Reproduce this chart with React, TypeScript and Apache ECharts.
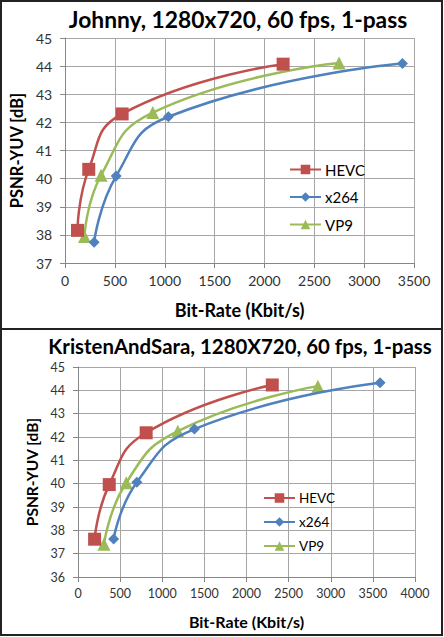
import React, { useEffect, useRef } from "react";
import * as echarts from "echarts";

const seriesNames = ["HEVC", "x264", "VP9"];
const colors = ["#C0504D", "#4F81BD", "#9BBB59"];
const symbols = ["rect", "diamond", "triangle"];
const symbolSizes = [13, 11, 13];

// Johnny
const johnnyHevc = [[124, 38.16], [237, 40.33], [572, 42.3], [2187, 44.07]];
const johnnyX264 = [[291, 37.74], [512, 40.09], [1036, 42.2], [3384, 44.09]];
const johnnyVp9 = [[194, 37.94], [361, 40.12], [879, 42.35], [2748, 44.11]];

// KristenAndSara
const kristenHevc = [[197, 37.62], [371, 39.96], [809, 42.18], [2306, 44.23]];
const kristenX264 = [[423, 37.63], [699, 40.06], [1382, 42.34], [3585, 44.33]];
const kristenVp9 = [[308, 37.4], [573, 40.04], [1185, 42.25], [2847, 44.18]];

const titles = [
  "Johnny, 1280x720, 60 fps, 1-pass",
  "KristenAndSara, 1280X720, 60 fps, 1-pass",
];
const xName = "Bit-Rate (Kbit/s)";
const yName = "PSNR-YUV [dB]";

const FONT = "Lato, 'Open Sans', sans-serif";

export default function App() {
  const ref = useRef<HTMLDivElement>(null);
  useEffect(() => {
    if (!ref.current) return;
    const chart = echarts.init(ref.current, null, { renderer: "svg" });
    const grid = "#A6A6A6";
    const mkX = (idx: number, max: number, gap: number, nameSize: number, labelSize: number) => ({
      type: "value",
      gridIndex: idx,
      min: 0,
      max,
      interval: 500,
      name: xName,
      nameLocation: "middle",
      nameGap: gap,
      nameTextStyle: { fontFamily: FONT, fontSize: nameSize, fontWeight: "bold", color: "#000" },
      axisLine: { show: true, lineStyle: { color: "#868686", width: 1 } },
      axisTick: { show: true, length: 5, lineStyle: { color: "#868686" } },
      axisLabel: {
        fontFamily: FONT,
        fontSize: labelSize,
        color: "#333",
        margin: 10,
        formatter: (v: number) => String(v),
      },
      splitLine: { show: true, lineStyle: { color: grid, width: 1 } },
    });
    const mkY = (idx: number, min: number, gap: number, nameSize: number, labelSize: number) => ({
      type: "value",
      gridIndex: idx,
      min,
      max: 45,
      interval: 1,
      name: yName,
      nameLocation: "middle",
      nameGap: gap,
      nameTextStyle: { fontFamily: FONT, fontSize: nameSize, fontWeight: "bold", color: "#000" },
      axisLine: { show: true, lineStyle: { color: "#868686", width: 1 } },
      axisTick: { show: true, length: 5, lineStyle: { color: "#868686" } },
      axisLabel: { fontFamily: FONT, fontSize: labelSize, color: "#333", margin: 13 },
      splitLine: { show: true, lineStyle: { color: grid, width: 1 } },
    });
    const mkSeries = (name: string, i: number, data: number[][], idx: number) => ({
      type: "line",
      name,
      xAxisIndex: idx,
      yAxisIndex: idx,
      data,
      smooth: 0.5,
      symbol: symbols[i],
      symbolSize: symbolSizes[i],
      showAllSymbol: true,
      lineStyle: { color: colors[i], width: 2.5 },
      itemStyle: { color: colors[i] },
      z: 3 - i + 2,
    });
    const mkLegend = (top: number, left: number, gap: number, size: number) => ({
      data: seriesNames,
      orient: "vertical",
      top,
      left,
      padding: 0,
      itemGap: gap,
      itemWidth: 31,
      itemHeight: 12,
      textStyle: { fontFamily: FONT, fontSize: size, color: "#000", padding: [0, 0, 0, -1] },
      selectedMode: false,
    });
    chart.setOption({
      animation: false,
      backgroundColor: "#fff",
      legend: [mkLegend(162, 289, 12.5, 15), mkLegend(491, 263, 10, 13.5)],
      grid: [
        { left: 65, top: 38, width: 349, height: 225 },
        { left: 78, top: 367, width: 337, height: 210 },
      ],
      xAxis: [mkX(0, 3500, 38, 18, 14), mkX(1, 4000, 36, 16, 12.5)],
      yAxis: [mkY(0, 37, 31, 16.5, 14), mkY(1, 36, 27, 15.5, 12.5)],
      series: [
        mkSeries(seriesNames[0], 0, johnnyHevc, 0),
        mkSeries(seriesNames[1], 1, johnnyX264, 0),
        mkSeries(seriesNames[2], 2, johnnyVp9, 0),
        mkSeries(seriesNames[0], 0, kristenHevc, 1),
        mkSeries(seriesNames[1], 1, kristenX264, 1),
        mkSeries(seriesNames[2], 2, kristenVp9, 1),
      ],
      graphic: [
        {
          type: "text",
          x: 238,
          y: 19,
          silent: true,
          style: {
            text: titles[0],
            fontFamily: FONT,
            fontSize: 22.8,
            fontWeight: "bold",
            fill: "#000",
            align: "center",
            verticalAlign: "middle",
          },
        },
        {
          type: "text",
          x: 240,
          y: 346,
          silent: true,
          style: {
            text: titles[1],
            fontFamily: FONT,
            fontSize: 20.4,
            fontWeight: "bold",
            fill: "#000",
            align: "center",
            verticalAlign: "middle",
          },
        },
        {
          type: "rect",
          shape: { x: 1, y: 1, width: 441, height: 328 },
          style: { fill: "none", stroke: "#222", lineWidth: 2 },
          silent: true,
        },
        {
          type: "rect",
          shape: { x: 1, y: 329, width: 441, height: 306 },
          style: { fill: "none", stroke: "#222", lineWidth: 2 },
          silent: true,
        },
      ],
    });
    return () => chart.dispose();
  }, []);
  return (
    <div
      ref={ref}
      style={{ position: "fixed", left: 0, top: 0, width: 444, height: 637 }}
    />
  );
}
